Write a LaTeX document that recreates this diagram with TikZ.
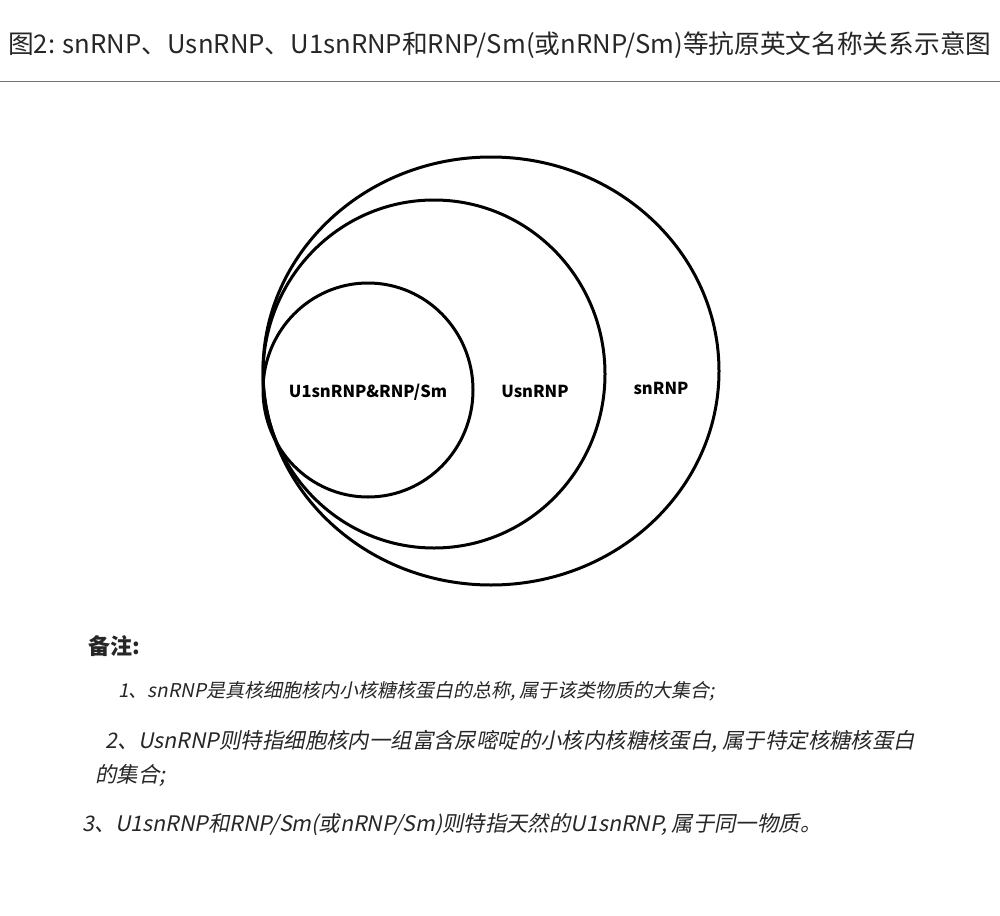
\documentclass[tikz,border=0pt]{standalone}
\usepackage{fontspec}
\setmainfont{Noto Sans CJK SC}
\newfontfamily\cjk{Noto Sans CJK SC}
\newfontfamily\cjkit[FakeSlant=0.2]{Noto Sans CJK SC}
\begin{document}
\begin{tikzpicture}[x=1pt,y=-1pt,
  ring/.style={draw=black,line width=3pt},
  lbl/.style={font=\cjk\bfseries\fontsize{16.5}{20}\selectfont},
  note/.style={anchor=west,inner sep=0pt,text=black!85,font=\cjkit\fontsize{19}{24}\selectfont},
  noteb/.style={note,font=\cjkit\fontsize{21.4}{26}\selectfont}]
\useasboundingbox (0,0) rectangle (1000,915);
\node[anchor=west,inner sep=0pt,text=black!85,font=\cjk\fontsize{25.7}{30}\selectfont] (title) at (8,45) {图2: snRNP、UsnRNP、U1snRNP和RNP/Sm(或nRNP/Sm)等抗原英文名称关系示意图};
\coordinate (l1) at (0,82); \coordinate (l2) at (1000,82);
\draw[black!55,line width=1pt] (l1) -- (l2);
\draw[ring] (491,371) ellipse [x radius=228,y radius=214];
\draw[ring] (434,374) ellipse [x radius=171,y radius=174];
\draw[ring] (368,390) ellipse [x radius=105,y radius=107];
\node[lbl] (a) at (368,392) {U1snRNP\&RNP/Sm};
\node[lbl] (b) at (535,391) {UsnRNP};
\node[lbl] (c) at (661,388) {snRNP};
\node[anchor=west,inner sep=0pt,text=black!85,font=\cjk\bfseries\fontsize{22}{26}\selectfont] (n0) at (88,646) {备注:};
\node[note] (n1) at (118,691) {1、snRNP是真核细胞核内小核糖核蛋白的总称, 属于该类物质的大集合;};
\node[noteb] (n2) at (105,741) {2、UsnRNP则特指细胞核内一组富含尿嘧啶的小核内核糖核蛋白, 属于特定核糖核蛋白};
\node[noteb] (n2b) at (95,775) {的集合;};
\node[noteb] (n3) at (82,825) {3、U1snRNP和RNP/Sm(或nRNP/Sm)则特指天然的U1snRNP, 属于同一物质。};
\end{tikzpicture}
\end{document}
